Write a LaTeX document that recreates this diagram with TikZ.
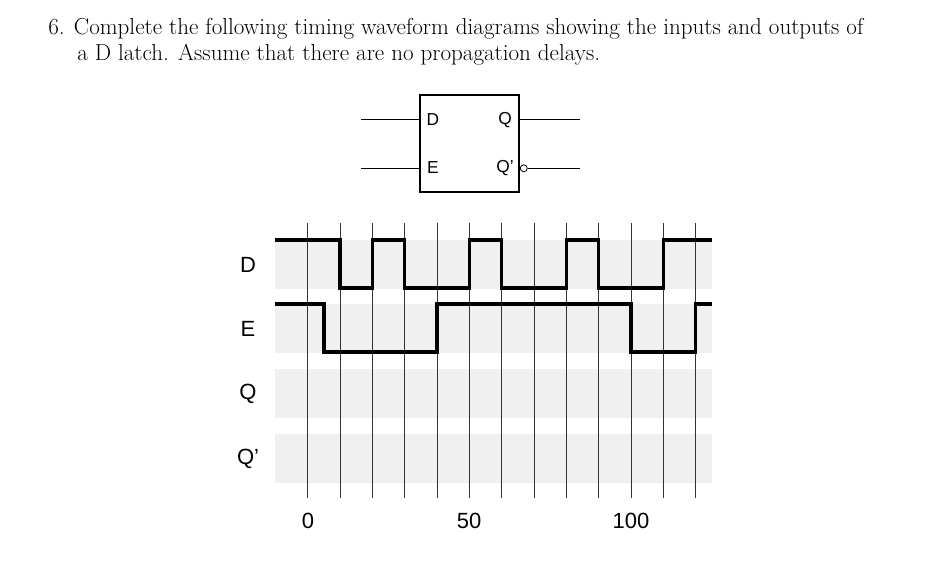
\documentclass[tikz,border=0pt]{standalone}
\usepackage{fontspec}
\newfontfamily\hv{Liberation Sans}
\begin{document}
\begin{tikzpicture}[x=0.75pt,y=-0.75pt,
  lab/.style={font=\hv\fontsize{16.5}{16.5}\selectfont},
  blab/.style={font=\hv\fontsize{13}{13}\selectfont},
  wave/.style={line width=2.6pt},
  grid/.style={line width=0.5pt, black!80},
  band/.style={fill=black!6, draw=none}]
\useasboundingbox (0,0) rectangle (952,577);
% title
\node[anchor=base west, inner sep=0, font=\fontsize{17.3}{19}\selectfont] (t1) at (48,35) {6. Complete the following timing waveform diagrams showing the inputs and outputs of};
\node[anchor=base west, inner sep=0, font=\fontsize{17.3}{19}\selectfont] (t2) at (77,61) {a D latch. Assume that there are no propagation delays.};
% latch
\node[draw, line width=1.3pt, minimum width=99*0.75pt, minimum height=97*0.75pt, inner sep=0] (box) at (469.5,143.5) {};
\node[blab] (ld) at (433,120) {D};
\node[blab] (lq) at (505,120) {Q};
\node[blab] (le) at (433,168) {E};
\node[blab] (lqn) at (505,168) {Q’};
\coordinate (di) at (361,119.3);
\coordinate (ei) at (361,168.3);
\coordinate (qo) at (580,119.3);
\coordinate (qno) at (580,168.3);
\draw[line width=0.6pt] (di) -- (di -| box.west);
\draw[line width=0.6pt] (ei) -- (ei -| box.west);
\draw[line width=0.6pt] (qo -| box.east) -- (qo);
\node[circle, draw, line width=0.6pt, minimum size=7*0.75pt, inner sep=0, anchor=west] (bub) at (ei -| box.east) {};
\draw[line width=0.6pt] (bub.east) -- (qno);
% bands
\foreach \y in {240,304,369,434} \fill[black!6] (275,\y) rectangle (712,\y+49);
% gridlines
\foreach \i in {0,...,12} \draw[grid] (307.7+32.33*\i,223) -- (307.7+32.33*\i,498);
% labels
\node[lab] (nD) at (248,265) {D};
\node[lab] (nE) at (248,329) {E};
\node[lab] (nQ) at (248,394) {Q};
\node[lab] (nQn) at (248,459) {Q’};
\node[lab] (n0) at (308,521) {0};
\node[lab] (n50) at (469,521) {50};
\node[lab] (n100) at (631,521) {100};
% waves
\def\tx#1{307.7+3.233*#1}
\draw[wave] (275,240) -- ({\tx{10}},240) -- ({\tx{10}},288) -- ({\tx{20}},288) -- ({\tx{20}},240) -- ({\tx{30}},240) -- ({\tx{30}},288) -- ({\tx{50}},288) -- ({\tx{50}},240) -- ({\tx{60}},240) -- ({\tx{60}},288) -- ({\tx{80}},288) -- ({\tx{80}},240) -- ({\tx{90}},240) -- ({\tx{90}},288) -- ({\tx{110}},288) -- ({\tx{110}},240) -- (712,240);
\draw[wave] (275,304) -- ({\tx{5}},304) -- ({\tx{5}},352) -- ({\tx{40}},352) -- ({\tx{40}},304) -- ({\tx{100}},304) -- ({\tx{100}},352) -- ({\tx{120}},352) -- ({\tx{120}},304) -- (712,304);
\end{tikzpicture}
\end{document}
